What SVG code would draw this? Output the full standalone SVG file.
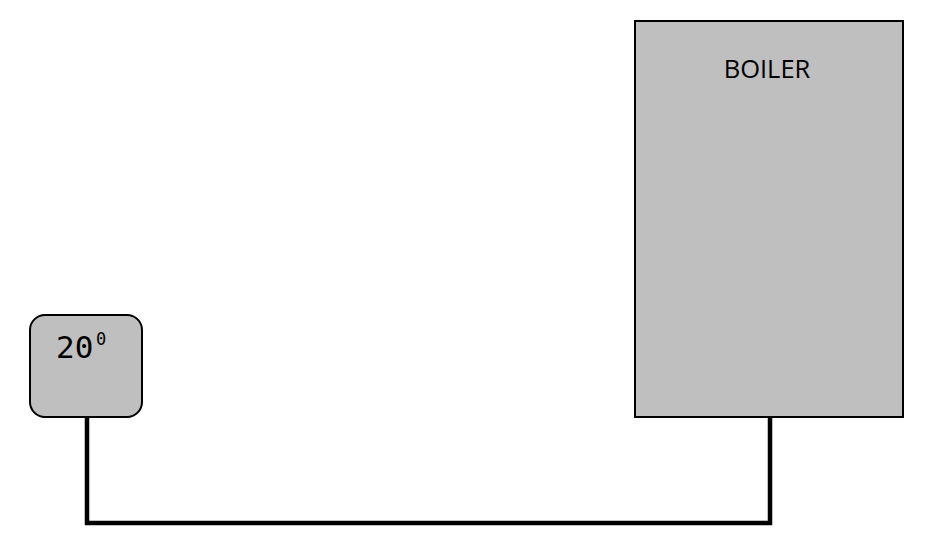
<svg xmlns="http://www.w3.org/2000/svg" width="937" height="558" viewBox="0 0 937 558">
<style>
.box{fill:#bfbfbf;stroke:#000;stroke-width:2}
.wire{fill:none;stroke:#000;stroke-width:4.5}
.lbl{font-family:"Open Sans","Liberation Sans",sans-serif;font-size:25.5px;fill:#000}
.lcd{font-family:"DejaVu Sans Mono","Liberation Mono",monospace;fill:#000}
</style>
<rect width="937" height="558" fill="#fff"/>
<g id="connectors">
<polyline class="wire" points="87,417 87,523 770,523 770,417"/>
</g>
<g id="thermostat">
<rect class="box" x="30" y="315" width="112" height="102" rx="15" ry="15"/>
<text class="lcd" x="56" y="358" font-size="31">20<tspan x="96" y="345" font-size="17">0</tspan></text>
</g>
<g id="boiler">
<rect class="box" x="635" y="21" width="268" height="396"/>
<text class="lbl" x="767" y="78" text-anchor="middle">BOILER</text>
</g>
</svg>
